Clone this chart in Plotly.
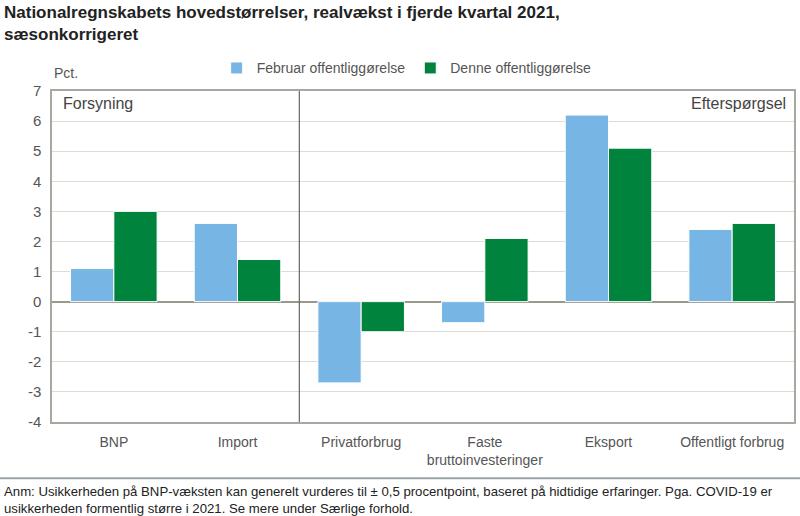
import plotly.graph_objects as go

categories = ["BNP", "Import", "Privatforbrug", "Faste<br>bruttoinvesteringer",
              "Eksport", "Offentligt forbrug"]
februar = [1.1, 2.6, -2.7, -0.7, 6.2, 2.4]
denne = [3.0, 1.4, -1.0, 2.1, 5.1, 2.6]
y_ticks = list(range(-4, 8))

FONT = "Liberation Sans, Arial, sans-serif"
GREY = "#555555"

fig = go.Figure()

fig.add_trace(go.Bar(
    x=categories, y=februar, name="Februar offentliggørelse",
    marker=dict(color="#77B5E4", line=dict(color="white", width=1)),
))
fig.add_trace(go.Bar(
    x=categories, y=denne, name="Denne offentliggørelse",
    marker=dict(color="#00843D", line=dict(color="white", width=1)),
))

# divider between supply and demand side
fig.add_shape(type="line", xref="x", yref="paper", x0=1.5, x1=1.5, y0=0, y1=1,
              line=dict(color="#666666", width=1.2))

# separator line above note
fig.add_shape(type="line", xref="paper", yref="paper", x0=-0.08, x1=1.01,
              y0=-0.17, y1=-0.17, line=dict(color="#9aa3a8", width=2))

fig.update_layout(
    width=800, height=516,
    paper_bgcolor="white", plot_bgcolor="white",
    margin=dict(l=52, r=4, t=91, b=94),
    barmode="group", bargap=0.3, bargroupgap=0.0,
    font=dict(family=FONT, color=GREY, size=14),
    showlegend=True,
    legend=dict(orientation="h", x=0.478, xanchor="center", y=1.02, yanchor="bottom",
                font=dict(size=14, color=GREY), itemwidth=30, traceorder="normal"),
    title=dict(
        text="Nationalregnskabets hovedstørrelser, realvækst i fjerde kvartal 2021,<br>sæsonkorrigeret",
        x=0.005, xanchor="left", y=0.966, yanchor="top",
        font=dict(family=FONT, size=17, color="#222222", weight="bold"),
    ),
    xaxis=dict(
        showgrid=False, showline=True, linecolor="#a8a8a0", linewidth=1.5, mirror=True,
        ticks="", tickfont=dict(size=14, color=GREY), ticklabelstandoff=6,
    ),
    yaxis=dict(
        range=[-4, 7], tickvals=y_ticks, ticktext=[str(v) for v in y_ticks],
        showgrid=True, gridcolor="#dcdcd6", gridwidth=1.2,
        zeroline=True, zerolinecolor="#999990", zerolinewidth=1.5,
        showline=True, linecolor="#a8a8a0", linewidth=1.5, mirror=True,
        tickfont=dict(size=15, color=GREY), ticks="", ticklabelstandoff=6,
    ),
    annotations=[
        dict(xref="paper", yref="paper", x=0.0, y=1.025, xanchor="left", yanchor="bottom",
             text="Pct.", showarrow=False, font=dict(size=14, color=GREY)),
        dict(xref="paper", yref="paper", x=0.012, y=0.995, xanchor="left", yanchor="top",
             text="Forsyning", showarrow=False, font=dict(size=16, color="#444444")),
        dict(xref="paper", yref="paper", x=0.992, y=0.995, xanchor="right", yanchor="top",
             text="Efterspørgsel", showarrow=False, font=dict(size=16, color="#444444")),
        dict(xref="paper", yref="paper", x=-0.067, y=-0.181, xanchor="left", yanchor="top",
             align="left", showarrow=False, font=dict(size=13.2, color="#222222"),
             text="Anm: Usikkerheden på BNP-væksten kan generelt vurderes til ± 0,5 procentpoint, "
                  "baseret på hidtidige erfaringer. Pga. COVID-19 er<br>usikkerheden formentlig "
                  "større i 2021. Se mere under Særlige forhold."),
    ],
)

fig.write_html("out.html", config={"displayModeBar": False},
               post_script="document.body.style.margin='0px';")
